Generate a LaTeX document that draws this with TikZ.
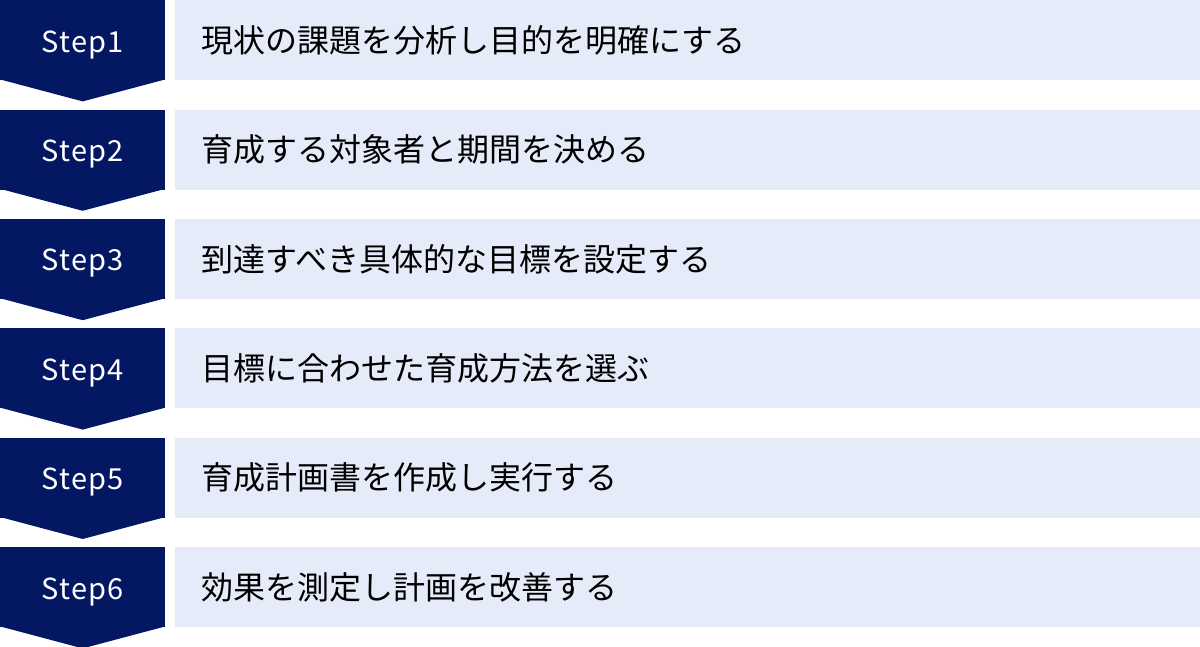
\documentclass[tikz,border=0pt]{standalone}
\usepackage{fontspec}
\setmainfont{Noto Sans CJK JP}
\newfontfamily\stepfont[LetterSpace=4]{Noto Sans CJK JP}
\usetikzlibrary{positioning}

\definecolor{stepnavy}{HTML}{041762}
\definecolor{barblue}{HTML}{E5EBF9}

\begin{document}
\begin{tikzpicture}[x=1pt,y=1pt,node distance=29pt and 9pt,
    stepbox/.style={rectangle,fill=stepnavy,text=white,inner sep=0pt,
        minimum width=165pt,minimum height=80pt,text height=24pt,text depth=0pt,
        font=\stepfont\fontsize{29}{36}\selectfont},
    bar/.style={rectangle,fill=barblue,text=black,inner xsep=27pt,inner ysep=0pt,
        text width=972pt,align=left,minimum height=80pt,font=\fontsize{32}{38}\selectfont},
    tip/.style={fill=stepnavy}]

    \useasboundingbox (0,0) rectangle (1200,-647);

    \node[stepbox,anchor=north west] (s1) at (0,0) {Step1};
    \node[stepbox] (s2) [below=of s1] {Step2};
    \node[stepbox] (s3) [below=of s2] {Step3};
    \node[stepbox] (s4) [below=of s3] {Step4};
    \node[stepbox] (s5) [below=of s4] {Step5};
    \node[stepbox] (s6) [below=of s5] {Step6};

    \node[bar] (b1) [right=of s1] {現状の課題を分析し目的を明確にする};
    \node[bar] (b2) [right=of s2] {育成する対象者と期間を決める};
    \node[bar] (b3) [right=of s3] {到達すべき具体的な目標を設定する};
    \node[bar] (b4) [right=of s4] {目標に合わせた育成方法を選ぶ};
    \node[bar] (b5) [right=of s5] {育成計画書を作成し実行する};
    \node[bar] (b6) [right=of s6] {効果を測定し計画を改善する};

    % arrow points under the steps
    \foreach \s in {s1,s2,s3,s4,s5,s6}
        \fill[tip] ([yshift=1pt]\s.south west) -- ([yshift=-21pt]\s.south)
            -- ([yshift=1pt]\s.south east) -- cycle;

\end{tikzpicture}
\end{document}
